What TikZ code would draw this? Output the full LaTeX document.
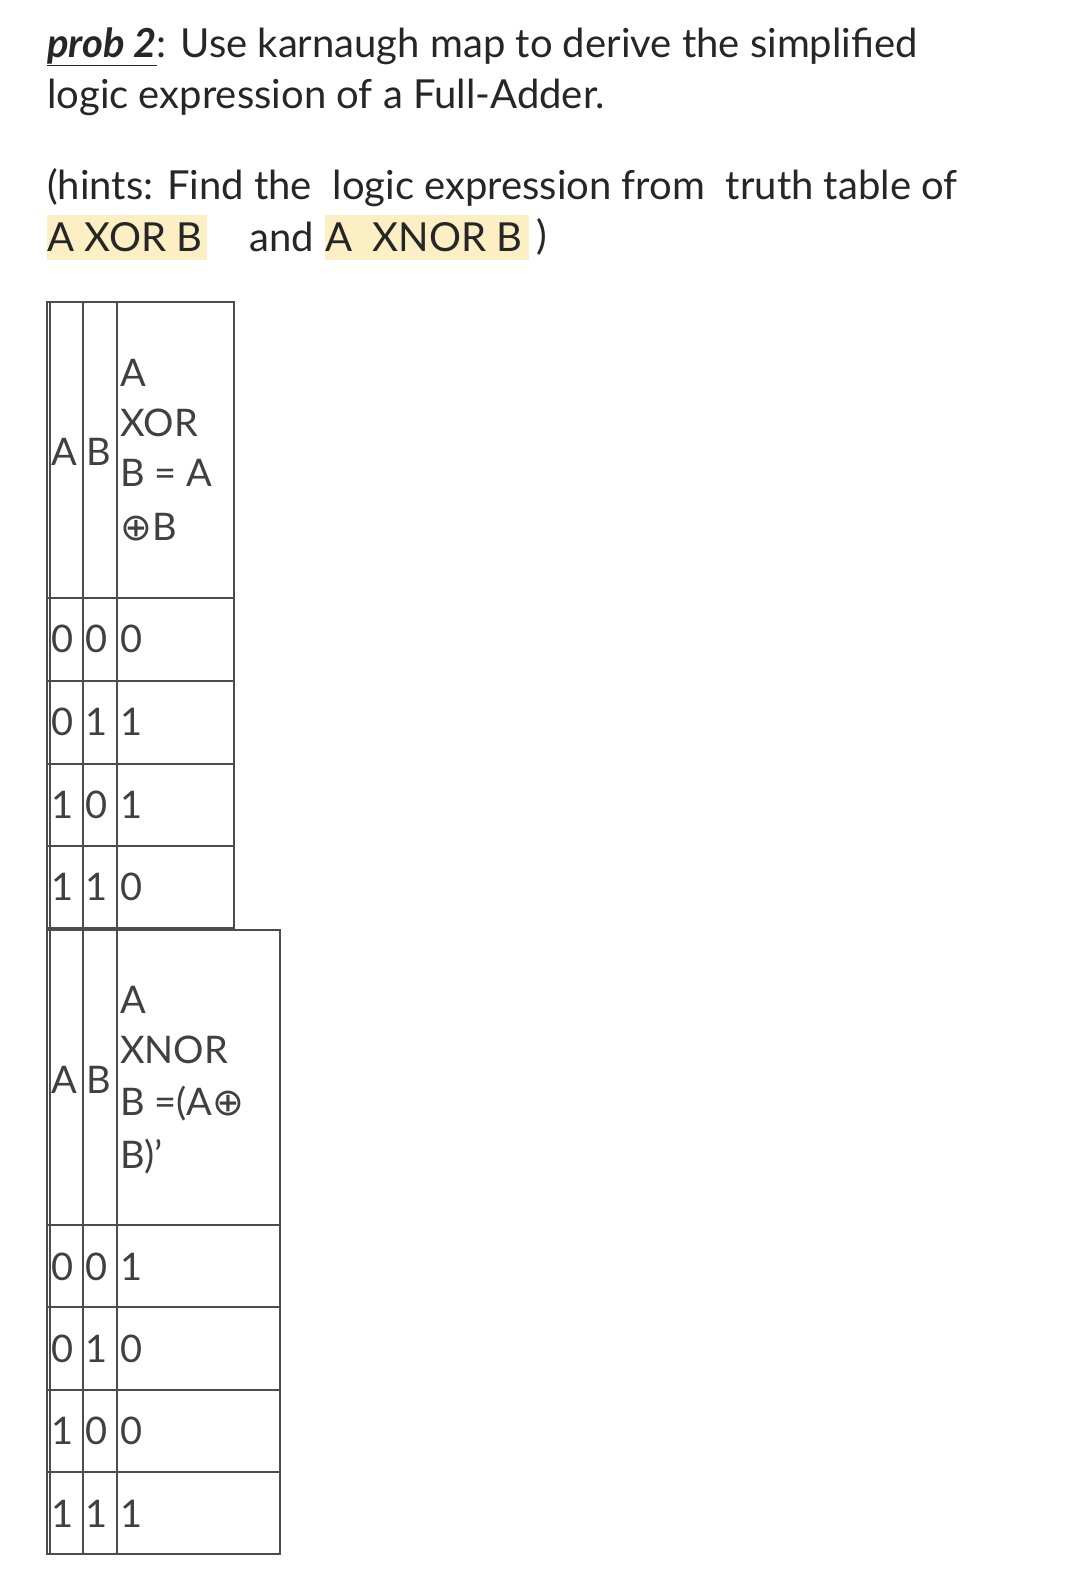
\documentclass[tikz,border=0pt]{standalone}
\usepackage{fontspec}
\setmainfont{Lato}
\newfontfamily\symf{DejaVu Sans}
\definecolor{hl}{HTML}{FCEFC4}
\begin{document}
\begin{tikzpicture}[x=1pt,y=-1pt,
  txt/.style={anchor=west,inner sep=0pt,font=\fontsize{40}{46}\selectfont,text=black!85},
  cell/.style={anchor=west,inner sep=0pt,font=\fontsize{38}{44}\selectfont,text=black!75},
  grid/.style={draw=black!70,line width=1.2pt}]
\useasboundingbox (0,0) rectangle (1068,1586);
\fill[hl] (47,215) rectangle (207,260);
\fill[hl] (325,215) rectangle (529,260);
\node[txt] (t1) at (47,47) {\textbf{\textit{\underline{prob 2}}}: Use karnaugh map to derive the simplified};
\node[txt] (t2) at (47,97) {logic expression of a Full-Adder.};
\node[txt] (t3) at (47,188) {(hints: Find the \ logic expression from \ truth table of};
\node[txt] (t4a) at (47,237) {A XOR B};
\node[txt] (t4b) at (249,237) {and};
\node[txt] (t4c) at (325,237) {A \ XNOR B};
\node[txt] (t4d) at (536,237) {)};
% table 1
\draw[grid] (47,302) rectangle (234,928);
\draw[grid] (50,302) -- (50,928);
\foreach \y in {598,681,764,846} \draw[grid] (47,\y) -- (234,\y);
\draw[grid] (83,302) -- (83,928);
\draw[grid] (117,302) -- (117,928);
\node[cell] (h1a) at (51,452) {A};
\node[cell] (h1b) at (86,452) {B};
\node[cell] (h1c) at (120,373) {A};
\node[cell] (h1d) at (120,423) {XOR};
\node[cell] (h1e) at (120,473) {B = A};
\node[cell] (h1f) at (120,527) {{\symf ⊕}B};
\foreach \r/\y in {{0/0/0}/639,{0/1/1}/722,{1/0/1}/805,{1/1/0}/887}{
  \foreach \a/\b/\c in \r {
    \node[cell] at (51,\y) {\a};
    \node[cell] at (85,\y) {\b};
    \node[cell] at (120,\y) {\c};
  }
}
% table 2
\draw[grid] (47,930) rectangle (280,1554);
\draw[grid] (50,930) -- (50,1554);
\foreach \y in {1225,1307,1390,1472} \draw[grid] (47,\y) -- (280,\y);
\draw[grid] (83,930) -- (83,1554);
\draw[grid] (117,930) -- (117,1554);
\node[cell] (h2a) at (51,1080) {A};
\node[cell] (h2b) at (86,1080) {B};
\node[cell] (h2c) at (120,1000) {A};
\node[cell] (h2d) at (120,1050) {XNOR};
\node[cell] (h2e) at (120,1104) {B =(A{\symf ⊕}};
\node[cell] (h2f) at (120,1157) {B)'};
\foreach \r/\y in {{0/0/1}/1267,{0/1/0}/1349,{1/0/0}/1431,{1/1/1}/1514}{
  \foreach \a/\b/\c in \r {
    \node[cell] at (51,\y) {\a};
    \node[cell] at (85,\y) {\b};
    \node[cell] at (120,\y) {\c};
  }
}
\end{tikzpicture}
\end{document}
